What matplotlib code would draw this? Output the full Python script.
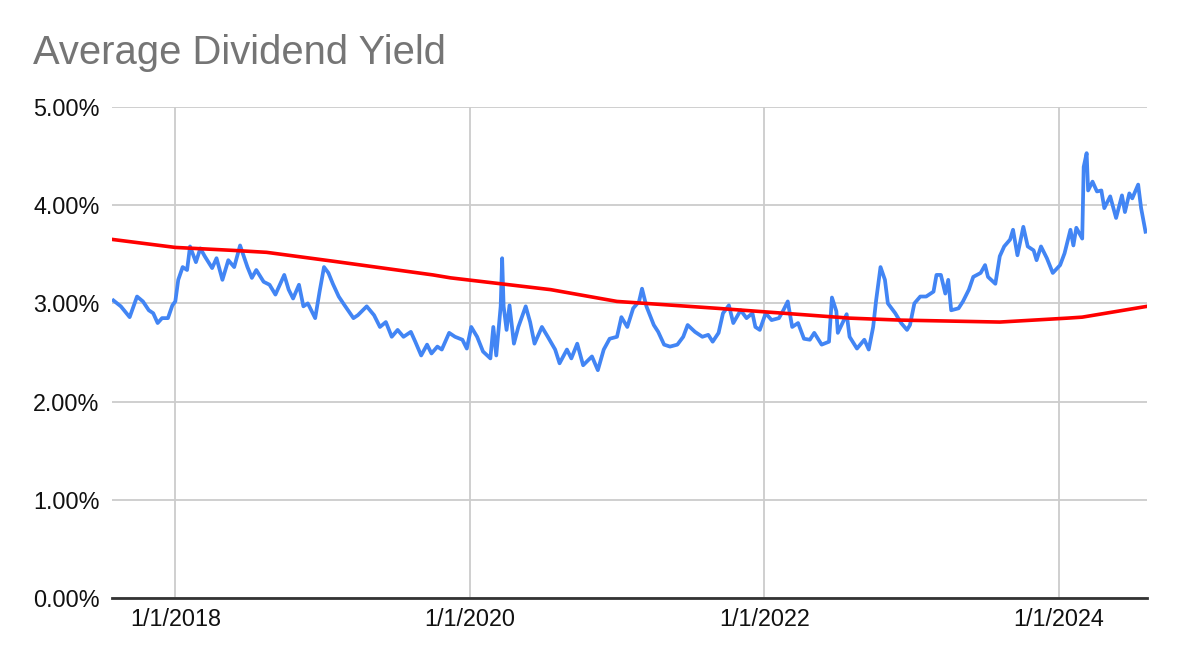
import matplotlib
matplotlib.use('Agg')
import matplotlib.pyplot as plt
from matplotlib.ticker import FuncFormatter

plt.rcParams['font.family'] = ['Liberation Sans', 'DejaVu Sans']

# dates as decimal years, yields in percent
yield_dates = [
    2017.58, 2017.63, 2017.69, 2017.74, 2017.78, 2017.82, 2017.85, 2017.88, 2017.91, 2017.95,
    2017.98, 2018.00, 2018.02, 2018.05, 2018.08, 2018.10, 2018.14, 2018.17, 2018.20, 2018.25,
    2018.28, 2018.32, 2018.36, 2018.40, 2018.44, 2018.49, 2018.52, 2018.55, 2018.60, 2018.64,
    2018.68, 2018.74, 2018.77, 2018.80, 2018.84, 2018.87, 2018.90, 2018.95, 2018.98, 2019.01,
    2019.04, 2019.07, 2019.11, 2019.15, 2019.21, 2019.24, 2019.30, 2019.35, 2019.39, 2019.43,
    2019.47, 2019.51, 2019.55, 2019.60, 2019.63, 2019.67, 2019.71, 2019.74, 2019.78, 2019.81,
    2019.86, 2019.90, 2019.95, 2019.98, 2020.01, 2020.05, 2020.09, 2020.14, 2020.16, 2020.18,
    2020.21, 2020.22, 2020.23, 2020.25, 2020.27, 2020.30, 2020.33, 2020.38, 2020.41, 2020.44,
    2020.49, 2020.53, 2020.58, 2020.61, 2020.66, 2020.69, 2020.73, 2020.77, 2020.83, 2020.87,
    2020.91, 2020.95, 2021.00, 2021.03, 2021.07, 2021.11, 2021.15, 2021.17, 2021.20, 2021.25,
    2021.28, 2021.32, 2021.36, 2021.41, 2021.45, 2021.48, 2021.53, 2021.58, 2021.62, 2021.65,
    2021.69, 2021.72, 2021.76, 2021.79, 2021.84, 2021.88, 2021.92, 2021.94, 2021.97, 2022.01,
    2022.05, 2022.10, 2022.13, 2022.16, 2022.19, 2022.23, 2022.27, 2022.31, 2022.34, 2022.39,
    2022.44, 2022.46, 2022.49, 2022.50, 2022.56, 2022.58, 2022.63, 2022.68, 2022.71, 2022.74,
    2022.76, 2022.79, 2022.82, 2022.84, 2022.89, 2022.93, 2022.97, 2022.99, 2023.02, 2023.06,
    2023.10, 2023.15, 2023.17, 2023.20, 2023.23, 2023.25, 2023.27, 2023.32, 2023.35, 2023.39,
    2023.42, 2023.47, 2023.50, 2023.52, 2023.57, 2023.60, 2023.63, 2023.67, 2023.69, 2023.72,
    2023.76, 2023.79, 2023.83, 2023.85, 2023.88, 2023.92, 2023.96, 2024.01, 2024.04, 2024.08,
    2024.10, 2024.12, 2024.16, 2024.17, 2024.19, 2024.20, 2024.23, 2024.26, 2024.29, 2024.31,
    2024.35, 2024.39, 2024.43, 2024.45, 2024.48, 2024.50, 2024.54, 2024.56, 2024.59,
]
yield_values = [
    3.03, 2.97, 2.86, 3.07, 3.02, 2.93, 2.90, 2.80, 2.85, 2.85,
    2.98, 3.02, 3.24, 3.37, 3.34, 3.58, 3.42, 3.56, 3.48, 3.36,
    3.46, 3.24, 3.44, 3.37, 3.59, 3.37, 3.26, 3.34, 3.22, 3.19,
    3.09, 3.29, 3.14, 3.05, 3.19, 2.97, 3.00, 2.85, 3.12, 3.37,
    3.31, 3.20, 3.07, 2.98, 2.85, 2.88, 2.97, 2.88, 2.76, 2.81,
    2.66, 2.73, 2.66, 2.71, 2.61, 2.47, 2.58, 2.49, 2.56, 2.53,
    2.70, 2.66, 2.63, 2.54, 2.76, 2.66, 2.51, 2.44, 2.76, 2.47,
    2.97, 3.46, 2.97, 2.73, 2.98, 2.59, 2.76, 2.97, 2.81, 2.59,
    2.76, 2.66, 2.53, 2.39, 2.53, 2.44, 2.59, 2.37, 2.46, 2.32,
    2.53, 2.64, 2.66, 2.86, 2.76, 2.95, 3.02, 3.15, 2.97, 2.78,
    2.71, 2.58, 2.56, 2.58, 2.66, 2.78, 2.71, 2.66, 2.68, 2.61,
    2.70, 2.90, 2.98, 2.80, 2.93, 2.85, 2.90, 2.76, 2.73, 2.90,
    2.83, 2.85, 2.93, 3.02, 2.76, 2.80, 2.64, 2.63, 2.70, 2.58,
    2.61, 3.06, 2.92, 2.70, 2.89, 2.66, 2.54, 2.63, 2.53, 2.76,
    3.03, 3.37, 3.24, 3.00, 2.90, 2.80, 2.73, 2.78, 3.00, 3.07,
    3.07, 3.12, 3.29, 3.29, 3.10, 3.24, 2.93, 2.95, 3.02, 3.14,
    3.27, 3.31, 3.39, 3.27, 3.20, 3.48, 3.58, 3.65, 3.75, 3.49,
    3.78, 3.58, 3.54, 3.44, 3.58, 3.46, 3.31, 3.39, 3.51, 3.75,
    3.59, 3.77, 3.66, 4.39, 4.53, 4.15, 4.24, 4.14, 4.15, 3.97,
    4.09, 3.87, 4.10, 3.93, 4.12, 4.07, 4.21, 3.97, 3.73,
]

avg_dates = [2017.58, 2018.00, 2018.39, 2018.62, 2019.07, 2019.75, 2019.87, 2020.21,
             2020.55, 2021.00, 2021.68, 2022.13, 2022.58, 2022.92, 2023.60, 2024.06,
             2024.16, 2024.60]
avg_values = [3.65, 3.57, 3.54, 3.52, 3.43, 3.29, 3.26, 3.20,
              3.14, 3.02, 2.95, 2.90, 2.85, 2.83, 2.81, 2.85,
              2.86, 2.97]

tick_years = [2018, 2020, 2022, 2024]
tick_labels = ['1/1/2018', '1/1/2020', '1/1/2022', '1/1/2024']

fig = plt.figure(figsize=(11.8, 6.65), dpi=100)
ax = fig.add_axes([112/1180, 1 - 598/665, (1147-112)/1180, (598-107)/665])

ax.plot(yield_dates, yield_values, color='#4285F4', lw=2.7, solid_joinstyle='round', zorder=3)
ax.plot(avg_dates, avg_values, color='#FF0000', lw=2.6, zorder=4)

ax.set_xlim(2017.57, 2024.60)
ax.set_ylim(0, 5)
ax.set_yticks([0, 1, 2, 3, 4, 5])
ax.yaxis.set_major_formatter(FuncFormatter(lambda v, p: '%.2f%%' % v))
ax.set_xticks(tick_years)
ax.set_xticklabels(tick_labels)

ax.grid(True, color='#cccccc', lw=1.3)
ax.set_axisbelow(True)
for s in ['top', 'right', 'left']:
    ax.spines[s].set_visible(False)
ax.spines['bottom'].set_color('#333333')
ax.spines['bottom'].set_linewidth(2)
ax.spines['bottom'].set_zorder(5)
ax.tick_params(length=0, labelsize=16.8, colors='#111111')
ax.tick_params(axis='y', pad=9)
ax.tick_params(axis='x', pad=7)

fig.text(33/1180, 1 - 64/665, 'Average Dividend Yield', fontsize=28.8, color='#757575',
         ha='left', va='baseline')

fig.savefig('out.png', dpi=100)
